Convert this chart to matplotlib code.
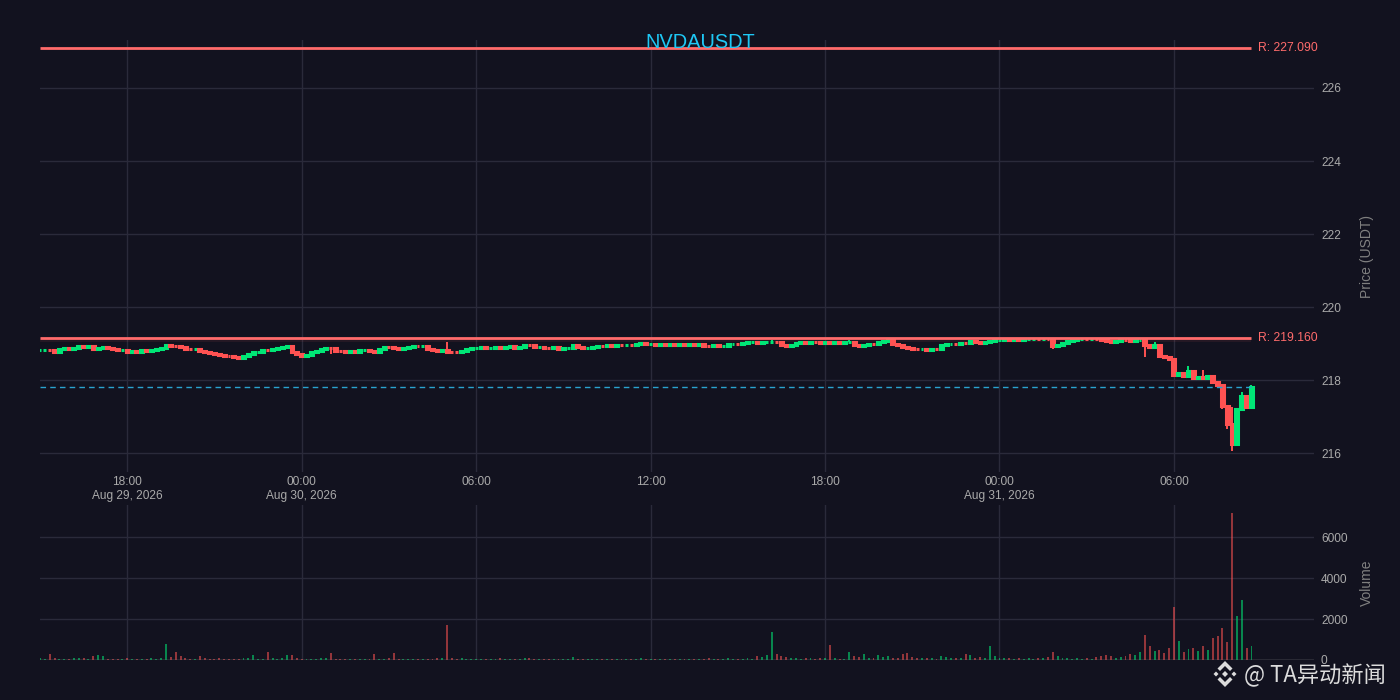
import numpy as np
import pandas as pd
import matplotlib
matplotlib.use('Agg')
import matplotlib.pyplot as plt
import matplotlib.dates as mdates
from matplotlib.patches import Polygon

plt.rcParams['font.family'] = ['Liberation Sans', 'DejaVu Sans']

# 10-minute candles, Aug 29 15:00 -> Aug 31 08:40
start_time = '2026-08-29 15:00'
closes = [
    218.82, 218.83, 218.81, 218.78, 218.84, 218.87, 218.86, 218.88, 218.92, 218.90,
    218.93, 218.85, 218.89, 218.91, 218.88, 218.84, 218.82, 218.83, 218.78, 218.79,
    218.77, 218.81, 218.80, 218.82, 218.86, 218.88, 218.96, 218.94, 218.93, 218.90,
    218.86, 218.84, 218.85, 218.80, 218.78, 218.73, 218.71, 218.68, 218.66, 218.65,
    218.62, 218.61, 218.66, 218.71, 218.77, 218.78, 218.82, 218.81, 218.84, 218.88,
    218.90, 218.93, 218.76, 218.72, 218.67, 218.69, 218.76, 218.79, 218.85, 218.88,
    218.87, 218.80, 218.79, 218.77, 218.80, 218.78, 218.81, 218.83, 218.80, 218.78,
    218.86, 218.91, 218.90, 218.87, 218.85, 218.88, 218.91, 218.93, 218.92, 218.93,
    218.84, 218.82, 218.80, 218.81, 218.78, 218.77, 218.76, 218.80, 218.86, 218.87,
    218.88, 218.90, 218.87, 218.89, 218.91, 218.88, 218.90, 218.92, 218.89, 218.91,
    218.97, 218.95, 218.90, 218.91, 218.88, 218.87, 218.90, 218.86, 218.88, 218.89,
    218.96, 218.91, 218.88, 218.89, 218.91, 218.94, 218.93, 218.95, 218.93, 218.96,
    218.95, 218.97, 218.96, 218.99, 219.01, 218.98, 219.00, 218.97, 218.98, 218.96,
    218.99, 218.97, 218.98, 218.97, 218.98, 218.96, 218.98, 218.94, 218.93, 218.95,
    218.92, 218.94, 218.99, 219.00, 218.98, 219.02, 219.03, 219.04, 219.02, 219.03,
    219.04, 219.05, 219.03, 218.96, 218.93, 218.97, 219.02, 219.03, 219.02, 219.04,
    219.03, 219.02, 219.04, 219.01, 219.03, 219.02, 219.03, 219.04, 218.96, 218.94,
    218.97, 219.00, 218.99, 219.05, 219.07, 219.09, 219.00, 218.97, 218.90, 218.88,
    218.85, 218.84, 218.86, 218.83, 218.85, 218.84, 218.95, 218.98, 219.00, 218.99,
    219.02, 219.01, 219.06, 219.04, 219.02, 219.04, 219.06, 219.09, 219.10, 219.11,
    219.09, 219.11, 219.10, 219.12, 219.12, 219.13, 219.11, 219.12, 219.11, 218.92,
    218.97, 219.02, 219.06, 219.10, 219.12, 219.13, 219.12, 219.13, 219.12, 219.10,
    219.06, 219.05, 219.08, 219.10, 219.09, 219.07, 219.09, 219.10, 218.95, 218.90,
    218.97, 218.66, 218.62, 218.58, 218.15, 218.18, 218.12, 218.26, 218.05, 218.08,
    218.06, 218.10, 217.95, 217.86, 217.30, 216.80, 216.25, 217.20, 217.55, 217.25,
    217.80,
]
first_open = 218.82
# wicks that stick out of the bodies
wick_highs = {26: 218.99, 51: 218.96, 84: 219.05, 151: 219.10, 167: 219.10, 175: 219.12,
              192: 219.10, 228: 219.16, 230: 219.05, 237: 218.38, 240: 218.27,
              245: 217.00, 246: 217.25, 248: 217.66, 250: 217.85}
wick_lows = {60: 218.72, 209: 218.86, 228: 218.64, 244: 217.20, 245: 216.65, 246: 216.05}

volumes = [
    120, 60, 280, 90, 50, 70, 40, 90, 110, 80,
    60, 200, 250, 180, 60, 50, 40, 70, 80, 60,
    50, 40, 70, 90, 60, 120, 800, 150, 380, 200,
    90, 60, 50, 200, 80, 60, 70, 100, 50, 60,
    40, 60, 80, 90, 250, 60, 70, 370, 80, 60,
    90, 250, 230, 100, 60, 70, 50, 60, 80, 90,
    350, 60, 50, 40, 60, 50, 40, 70, 60, 280,
    50, 60, 80, 350, 60, 40, 50, 70, 60, 50,
    60, 70, 90, 80, 1700, 120, 60, 100, 50, 60,
    70, 50, 40, 60, 50, 90, 60, 50, 40, 60,
    120, 80, 60, 50, 70, 60, 50, 40, 60, 70,
    150, 60, 50, 40, 60, 70, 50, 60, 40, 50,
    60, 50, 70, 60, 90, 50, 60, 40, 50, 60,
    70, 50, 60, 40, 50, 60, 70, 50, 80, 60,
    50, 60, 120, 70, 60, 50, 80, 60, 200, 150,
    250, 1350, 300, 200, 150, 100, 80, 60, 120, 90,
    60, 80, 100, 750, 90, 60, 70, 400, 200, 150,
    300, 120, 90, 250, 150, 200, 100, 120, 300, 350,
    150, 100, 80, 120, 90, 60, 200, 150, 100, 80,
    120, 300, 250, 100, 150, 90, 700, 200, 120, 100,
    80, 60, 90, 70, 100, 60, 80, 90, 150, 400,
    200, 120, 90, 60, 80, 70, 100, 60, 150, 200,
    250, 180, 120, 150, 200, 300, 250, 400, 1220, 700,
    450, 500, 350, 600, 2600, 950, 400, 550, 600, 450,
    700, 500, 1090, 1170, 1550, 900, 7200, 2150, 2930, 600,
    680,
]

resistance_levels = [227.09, 219.16]
last_price = 217.80
symbol = 'NVDAUSDT'

tick_times = ['2026-08-29 18:00', '2026-08-30 00:00', '2026-08-30 06:00', '2026-08-30 12:00',
              '2026-08-30 18:00', '2026-08-31 00:00', '2026-08-31 06:00']
tick_labels = ['18:00\nAug 29, 2026', '00:00\nAug 30, 2026', '06:00', '12:00',
               '18:00', '00:00\nAug 31, 2026', '06:00']

# ---- build OHLC ----
close = np.array(closes)
opens = np.concatenate([[first_open], close[:-1]])
high = np.maximum(opens, close)
low = np.minimum(opens, close)
for k, v in wick_highs.items():
    high[k] = v
for k, v in wick_lows.items():
    low[k] = v
times = pd.date_range(start_time, periods=len(close), freq='10min')
x = mdates.date2num(times)
step = 10 / (24 * 60)

BG = '#12121f'
GRID = '#2a2a3a'
UP = '#00e676'
DOWN = '#ff5252'
RES = '#ff6b6b'
TXT = '#aaaaaa'

W, H = 1400, 700
fig = plt.figure(figsize=(14, 7), dpi=100, facecolor=BG)
L, R = 40, 1314
ax_p = fig.add_axes([L / W, 1 - 472 / H, (R - L) / W, (472 - 40) / H])
ax_v = fig.add_axes([L / W, 1 - 660 / H, (R - L) / W, (660 - 505) / H], sharex=ax_p)

up = close >= opens
cols = np.where(up, UP, DOWN)

# candles
ax_p.vlines(x, low, high, colors=cols, linewidth=1.4, zorder=3)
ax_p.bar(x, np.abs(close - opens), bottom=np.minimum(opens, close), width=step * 0.6,
         color=cols, edgecolor=cols, linewidth=2.2, zorder=4)

# resistance lines
for lvl in resistance_levels:
    ax_p.hlines(lvl, x[0], x[-1], colors=RES, linewidth=2, zorder=5)
    ax_p.text(x[-1] + step * 1.3, lvl, f'R: {lvl:.3f}', color=RES, fontsize=8.8,
              va='center', ha='left', zorder=6)
ax_p.fill_between([x[0], x[-1]], resistance_levels[1] * 0.9995, resistance_levels[1],
                  color=RES, alpha=0.08, linewidth=0, zorder=2)
ax_p.hlines(last_price, x[0], x[-1], colors='#2aa3cf', linewidth=1,
            linestyles=(0, (4, 3)), zorder=5)

# volume
vcols = np.where(up, UP, DOWN)
ax_v.bar(x, volumes, width=step * 0.4, color=vcols, alpha=0.55, linewidth=0, zorder=3)
ax_v.axhline(0, color='#777777', linewidth=1, zorder=4)

tick_x = mdates.date2num(pd.to_datetime(tick_times))
for ax in (ax_p, ax_v):
    ax.set_facecolor(BG)
    for s in ax.spines.values():
        s.set_visible(False)
    ax.yaxis.tick_right()
    ax.yaxis.set_label_position('right')
    ax.grid(True, color=GRID, linewidth=1, zorder=0)
    ax.set_axisbelow(True)
    ax.tick_params(axis='both', length=0, colors=TXT, labelsize=8.6)
    ax.tick_params(axis='y', pad=5)

ax_p.set_xticks(tick_x)
ax_p.set_xticklabels(tick_labels)
ax_p.tick_params(axis='x', pad=3)
plt.setp(ax_v.get_xticklabels(), visible=False)
ax_p.set_xlim(mdates.date2num(pd.Timestamp('2026-08-29 15:00')),
              mdates.date2num(pd.Timestamp('2026-08-31 10:49')))

ax_p.set_ylim(215.48, 227.315)
ax_p.set_yticks([216, 218, 220, 222, 224, 226])
ax_v.set_ylim(0, 7580)
ax_v.set_yticks([0, 2000, 4000, 6000])

ax_p.set_ylabel('Price (USDT)', color='#808080', fontsize=10)
ax_p.yaxis.set_label_coords((1360 - L) / (R - L), 0.5)
ax_v.set_ylabel('Volume', color='#808080', fontsize=10)
ax_v.yaxis.set_label_coords((1360 - L) / (R - L), 0.5)

fig.text(0.5, 1 - 42 / H, symbol, color='#1ec8f5', fontsize=14.4, ha='center', va='center')

# watermark: logo + handle
fig.text(1244 / W, 1 - 675 / H, '@ TA异动新闻', color='#dcdcdc', fontsize=16,
         ha='left', va='center', family=['Noto Sans CJK SC', 'DejaVu Sans'], zorder=10)
cx, cy = 1225, 674
logo_shapes = [
    [(0, 3), (3, 0), (0, -3), (-3, 0)],
    [(-9, 2.5), (-6.5, 0), (-9, -2.5), (-11.5, 0)],
    [(9, 2.5), (11.5, 0), (9, -2.5), (6.5, 0)],
    [(0, 13), (7.5, 5.5), (5, 3), (0, 8), (-5, 3), (-7.5, 5.5)],
    [(0, -13), (7.5, -5.5), (5, -3), (0, -8), (-5, -3), (-7.5, -5.5)],
]
for shp in logo_shapes:
    pts = [((cx + px) / W, 1 - (cy - py) / H) for px, py in shp]
    fig.add_artist(Polygon(pts, closed=True, facecolor='#dcdcdc', edgecolor='none',
                           transform=fig.transFigure, zorder=10))

fig.savefig('out.png', dpi=100, facecolor=BG)
